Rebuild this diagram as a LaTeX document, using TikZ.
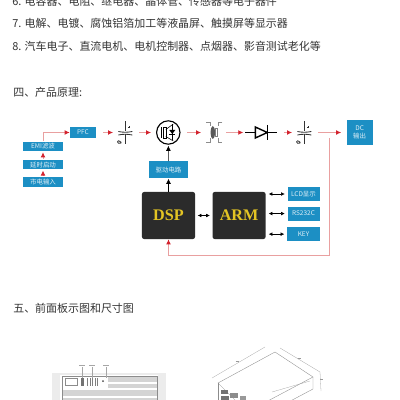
\documentclass[tikz,border=0pt]{standalone}
\usepackage{fontspec}
\setmainfont{Noto Sans CJK SC}
\newfontfamily\dspfont{Liberation Serif}
\usetikzlibrary{arrows.meta,positioning}
\definecolor{boxblue}{HTML}{1C8FC4}
\definecolor{chipdark}{HTML}{2B2B2B}
\definecolor{chipyellow}{HTML}{E3C424}
\definecolor{linepink}{HTML}{E9A0A0}
\definecolor{tipred}{HTML}{D3232E}
\definecolor{panelgray}{HTML}{D4D4D4}
\newcommand{\capsymbol}[1]{%
  \begin{scope}[shift={(#1.center)}, line width=0.6pt, draw=black!80]
    \draw (0,-11) -- (0,-1.5);
    \draw (0,2) -- (0,12);
    \draw (-7,-1) .. controls (-2,0) and (2,0) .. (7,-1);
    \draw (-7,2.5) .. controls (-2,1.5) and (2,1.5) .. (7,2.5);
    \draw[line width=0.4pt] (3,-5) -- (5,-5) (4,-6) -- (4,-4);
    \draw (-4,10) .. controls (-9,5) and (-9,13) .. (-4,10.5);
  \end{scope}}
\begin{document}
\begin{tikzpicture}[
    x=0.025cm, y=-0.025cm,
    textline/.style={anchor=west, inner sep=0pt, font=\fontsize{7.8pt}{9pt}\selectfont, text=black!80},
    bluebox/.style={fill=boxblue, text=white!85!boxblue, align=center, inner sep=0pt,
      font=\fontsize{4.6pt}{5.6pt}\selectfont, minimum width=1cm, minimum height=0.24cm},
    chip/.style={fill=chipdark, text=chipyellow, rounded corners=1.5pt, inner sep=0pt,
      font=\dspfont\bfseries\fontsize{11.5pt}{12pt}\selectfont, minimum width=1.325cm, minimum height=1.175cm},
    symbolbox/.style={inner sep=0pt, outer sep=0pt, minimum height=0.6cm},
    flow/.style={-{Latex[length=3.6pt,width=3.4pt,color=tipred]}, draw=linepink, line width=0.6pt},
    gap/.style={shorten <=0.17cm, shorten >=0.13cm},
    dblarrow/.style={{Latex[length=2.6pt,width=2.6pt]}-{Latex[length=2.6pt,width=2.6pt]}, line width=0.4pt, shorten <=0.06cm, shorten >=0.06cm},
    blackarrow/.style={-{Latex[length=3.6pt,width=3.4pt]}, line width=0.4pt},
    dimline/.style={draw=black!35, line width=0.2pt},
    sheet/.style={draw=black!45, line width=0.25pt}
  ]
    \useasboundingbox (0,0) rectangle (400,400);
    \clip (0,0) rectangle (400,400);
    \node[textline] (item6) at (12,1) {6. 电容器、电阻、继电器、晶体管、传感器等电子器件};
    \node[textline] (item7) at (12,23) {7. 电解、电镀、腐蚀铝箔加工等液晶屏、触摸屏等显示器};
    \node[textline] (item8) at (12,46) {8. 汽车电子、直流电机、电机控制器、点烟器、影音测试老化等};
    \node[textline] (head4) at (13,92) {四、产品原理:};
    \node[textline] (head5) at (13,308) {五、前面板示图和尺寸图};

    \node[bluebox] (power) at (43,182) {市电输入};
    \node[bluebox, above=0.18cm of power] (delay) {延时启动};
    \node[bluebox, above=0.2cm of delay] (emi) {EMI滤波};
    \node[bluebox, minimum width=0.65cm, minimum height=0.275cm] (pfc) at (83,132.5) {PFC};
    \node[symbolbox, minimum width=0.35cm, right=0.55cm of pfc] (capa) {};
    \node[symbolbox, minimum width=0.6cm, right=0.6cm of capa] (igbt) {};
    \node[symbolbox, minimum width=0.4cm, right=0.65cm of igbt] (xfmr) {};
    \node[symbolbox, minimum width=0.8cm, right=0.575cm of xfmr] (diode) {};
    \node[symbolbox, minimum width=0.35cm, right=0.5cm of diode] (capb) {};
    \node[bluebox, minimum width=0.65cm, minimum height=0.6cm, right=0.875cm of capb] (dc) {DC\\输出};
    \node[chip] (dsp) at (168.5,215.5) {DSP};
    \node[chip, right=0.425cm of dsp] (arm) {ARM};
    \node[bluebox, minimum width=0.975cm, minimum height=0.425cm, above=0.325cm of dsp] (drive) {驱动电路};
    \node[bluebox, minimum width=0.8cm, minimum height=0.35cm] (lcd) at (303.5,194) {LCD显示};
    \node[bluebox, minimum width=0.8cm, minimum height=0.35cm, below=0.125cm of lcd] (rs232) {RS232C};
    \node[bluebox, minimum width=0.825cm, minimum height=0.35cm, below=0.15cm of rs232] (key) {KEY};
    \coordinate (fbtop) at (329,138);
    \coordinate (fbcorner) at (329,255);

    \capsymbol{capa}
    \capsymbol{capb}
    \begin{scope}[shift={(igbt.center)}, line width=0.4pt]
      \draw[line width=0.8pt] (0,0) circle (11.7);
      \draw (-7,-5) -- (-7,6) (-5,-5) rectangle (-2.5,6);
      \draw (-2.5,-3) -- (5,-8.5) (-2.5,4) -- (5,8.5);
      \fill (1,-2.5) -- (7,-2.5) -- (4,1.5) -- cycle;
      \draw (1,2) -- (7,2);
      \draw (4,-8) -- (4,8);
    \end{scope}
    \begin{scope}[shift={(xfmr.center)}]
      \fill[black!65] (-1.5,0) ellipse (2.2 and 6.5);
      \draw[black!50, line width=0.5pt] (0.8,-4) rectangle (3,4);
      \draw[black!45, line width=0.3pt] (-8,-10) -- (-4,-10) -- (-4,-6) (-4,6) -- (-4,10) -- (-8,10);
      \draw[black!45, line width=0.3pt] (8,-10) -- (4,-10) -- (4,-6) (4,6) -- (4,10) -- (8,10);
    \end{scope}
    \begin{scope}[shift={(diode.center)}, line width=1pt]
      \draw (-16,0) -- (-6,0) (6,0) -- (16,0);
      \draw (-6,-5.5) -- (6,0) -- (-6,5.5) -- cycle;
      \draw (6,-7.5) -- (6,7.5);
    \end{scope}

    \draw[flow, shorten <=0.02cm, shorten >=0.02cm] (power) -- (delay);
    \draw[flow, shorten <=0.02cm, shorten >=0.02cm] (delay) -- (emi);
    \draw[flow] (emi.north) |- (pfc.west);
    \draw[flow, gap] (pfc) -- (capa);
    \draw[flow, gap] (capa) -- (igbt);
    \draw[flow, gap] (igbt) -- (xfmr);
    \draw[flow, shorten <=0.1cm, shorten >=0.05cm] (xfmr) -- (diode);
    \draw[flow, gap] (diode) -- (capb);
    \draw[flow, gap] (capb) -- (dc);
    \draw[flow] (fbtop) -- (fbcorner) -| (dsp.south);
    \draw[blackarrow] (dsp) -- (drive);
    \draw[blackarrow, shorten >=0.03cm] (drive) -- (igbt);
    \draw[dblarrow] (dsp) -- (arm);
    \draw[dblarrow, shorten <=0.07cm] (arm.east |- lcd.west) -- (lcd.west);
    \draw[dblarrow, shorten <=0.07cm] (arm.east |- rs232.west) -- (rs232.west);
    \draw[dblarrow, shorten <=0.07cm] (arm.east |- key.west) -- (key.west);

    \fill[panelgray!45] (52,373) rectangle (166,400);
    \fill[white] (60,375) rectangle (158,400);
    \fill[panelgray] (108,377) rectangle (157,382);
    \fill[panelgray] (108,383.5) rectangle (157,388);
    \fill[panelgray] (62,390) rectangle (157,396);
    \fill[panelgray] (62,398) rectangle (157,400);
    \draw[sheet] (62,376) rectangle (157,400);
    \draw[sheet, fill=white] (65,378) rectangle (77,385);
    \fill[black!55] (81,378) rectangle (84,386);
    \foreach \gx in {87,89.5,92,94.5,97} {
      \fill[black!50] (\gx,378) rectangle ++(1.3,8);
    }
    \fill[black!70] (103,381) circle (1);
    \foreach \lx in {82,92,106} {
      \draw[dimline] (\lx-3,365) -- (\lx+3,365);
      \draw[dimline] (\lx,367) -- (\lx,378);
    }

    \draw[sheet] (218,383) -- (275,352) -- (313,377) -- (247,412) -- cycle;
    \draw[sheet] (313,377) -- (313,389) -- (247,424);
    \draw[sheet] (218,383) -- (218,400);
    \draw[dimline] (212,378) -- (265,347);
    \draw[dimline] (280,348) -- (320,372);
    \draw[dimline] (320,372) -- (321,391);
    \draw[dimline] (272,392) -- (310,381);
    \foreach \dx/\dy in {237/361,299/358,321.5/379} {
      \draw[black!40, line width=0.5pt] (\dx-1.5,\dy) -- (\dx+1.5,\dy);
    }
    \fill[black!55] (221,390) rectangle (228,394);
    \fill[black!45] (230,393) rectangle (238,398);
    \fill[black!55] (221,396) rectangle (229,400);
    \fill[black!40] (240,396) rectangle (246,400);
  \end{tikzpicture}
\end{document}
